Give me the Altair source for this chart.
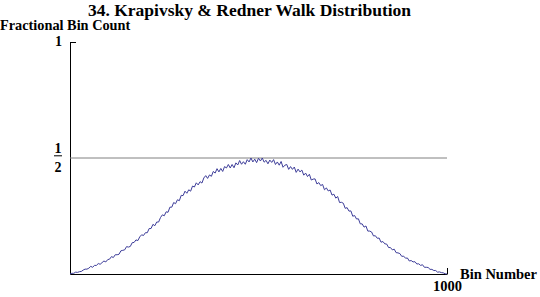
import altair as alt
import pandas as pd

bins = list(range(0, 1001, 5))
counts = [
    0.000, 0.003, 0.003, 0.008, 0.007, 0.010, 0.011, 0.017, 0.021, 0.021,
    0.025, 0.033, 0.029, 0.037, 0.037, 0.045, 0.042, 0.049, 0.056, 0.052,
    0.062, 0.064, 0.075, 0.071, 0.083, 0.083, 0.085, 0.100, 0.102, 0.104,
    0.118, 0.116, 0.119, 0.135, 0.136, 0.147, 0.144, 0.160, 0.169, 0.166,
    0.178, 0.178, 0.196, 0.196, 0.214, 0.208, 0.224, 0.224, 0.243, 0.255,
    0.251, 0.268, 0.266, 0.288, 0.288, 0.308, 0.303, 0.320, 0.316, 0.339,
    0.338, 0.357, 0.348, 0.363, 0.357, 0.379, 0.375, 0.393, 0.384, 0.398,
    0.392, 0.414, 0.424, 0.412, 0.427, 0.421, 0.442, 0.435, 0.454, 0.440,
    0.455, 0.442, 0.463, 0.457, 0.472, 0.457, 0.472, 0.458, 0.479, 0.470,
    0.489, 0.473, 0.484, 0.473, 0.493, 0.483, 0.500, 0.483, 0.495, 0.480,
    0.499,
    0.487, 0.500, 0.482, 0.490, 0.475, 0.491, 0.481, 0.493, 0.472, 0.483,
    0.469, 0.485, 0.460, 0.469, 0.472, 0.451, 0.463, 0.451, 0.461, 0.438,
    0.452, 0.440, 0.448, 0.426, 0.435, 0.420, 0.430, 0.405, 0.409, 0.410,
    0.388, 0.394, 0.381, 0.386, 0.363, 0.371, 0.358, 0.362, 0.340, 0.344,
    0.327, 0.334, 0.308, 0.309, 0.305, 0.283, 0.286, 0.271, 0.272, 0.249,
    0.252, 0.237, 0.238, 0.216, 0.216, 0.202, 0.207, 0.185, 0.185, 0.181,
    0.164, 0.165, 0.154, 0.155, 0.137, 0.140, 0.130, 0.129, 0.114, 0.114,
    0.104, 0.107, 0.092, 0.091, 0.088, 0.076, 0.077, 0.068, 0.069, 0.056,
    0.058, 0.052, 0.053, 0.043, 0.044, 0.037, 0.040, 0.029, 0.029, 0.028,
    0.020, 0.020, 0.015, 0.015, 0.008, 0.009, 0.006, 0.005, 0.001, 0.000,
]

title_text = "34. Krapivsky & Redner Walk Distribution"
y_title = "Fractional Bin Count"
x_title = "Bin Number"
half_level = [0.5]

df = pd.DataFrame({"bin": bins, "count": counts})
SERIF = "'Liberation Serif', 'Times New Roman', Times, serif"

xs = alt.Scale(domain=[0, 1000], nice=False, zero=False)
ys = alt.Scale(domain=[0, 1], nice=False)

base_axis = dict(labels=False, ticks=False, grid=False, domain=True,
                 domainColor="black", domainWidth=1, title=None)

line = alt.Chart(df).mark_line(color="#3d3d99", strokeWidth=1).encode(
    x=alt.X("bin:Q", scale=xs, axis=alt.Axis(**base_axis)),
    y=alt.Y("count:Q", scale=ys, axis=alt.Axis(**base_axis)),
)

grid = alt.Chart(pd.DataFrame({"v": half_level})).mark_rule(
    color="#808080", strokeWidth=1
).encode(y=alt.Y("v:Q", scale=ys))

one = alt.Chart(alt.Data(values=[{}]))

def txt(s, x, y, size=14.5, align="left"):
    return one.mark_text(font=SERIF, fontWeight="bold", fontSize=size,
                         align=align, baseline="alphabetic", color="black").encode(
        x=alt.value(x), y=alt.value(y), text=alt.value(s))

tick1 = one.mark_rule(color="black").encode(
    x=alt.value(0), x2=alt.value(6), y=alt.value(0.5))
tickx = one.mark_rule(color="black").encode(
    x=alt.value(377.5), y=alt.value(232), y2=alt.value(226))
fracbar = one.mark_rule(color="black", strokeWidth=1).encode(
    x=alt.value(-16), x2=alt.value(-8), y=alt.value(113.8))

layers = [
    grid, line, tick1, tickx, fracbar,
    txt(title_text, 179.5, -26.2, size=17.5, align="center"),
    txt(y_title, -70, -12.5, size=14.3),
    txt("1", -11.5, 3.7, size=14, align="center"),
    txt("1", -12, 111, size=14, align="center"),
    txt("2", -12, 130, size=14, align="center"),
    txt("1000", 377.5, 249, size=14.5, align="center"),
    txt(x_title, 390, 237),
]

chart = alt.layer(*layers).properties(
    width=377, height=232,
    padding={"left": 70, "top": 42, "right": 93, "bottom": 23},
    autosize="none",
).configure_view(stroke=None)

chart.save("out.html", embed_options={"renderer": "svg", "actions": False})
